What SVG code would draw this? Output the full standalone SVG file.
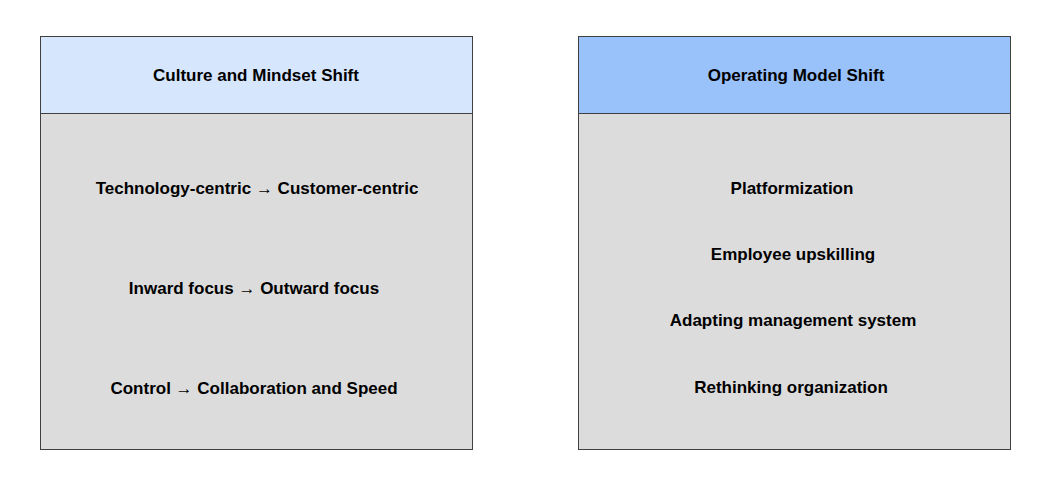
<svg xmlns="http://www.w3.org/2000/svg" width="1052" height="489" viewBox="0 0 1052 489">
<style>
.b{fill:#dcdcdc;stroke:#404040;stroke-width:1}
.h{stroke:#404040;stroke-width:1}
text{font-family:"Liberation Sans",Arial,sans-serif;font-weight:bold;font-size:17px;fill:#000;text-anchor:middle}
</style>
<rect width="1052" height="489" fill="#fff"/>
<g id="culture">
<rect class="b" x="40.5" y="36.5" width="432" height="413"/>
<rect class="h" x="40.5" y="36.5" width="432" height="77" fill="#d6e6fd"/>
<text x="256" y="81">Culture and Mindset Shift</text>
<text x="257" y="194">Technology-centric  →  Customer-centric</text>
<text x="254" y="294">Inward focus  →  Outward focus</text>
<text x="254" y="394">Control  →  Collaboration and Speed</text>
</g>
<g id="operating">
<rect class="b" x="578.5" y="36.5" width="432" height="413"/>
<rect class="h" x="578.5" y="36.5" width="432" height="77" fill="#99c2fb"/>
<text x="796" y="81">Operating Model Shift</text>
<text x="792" y="194">Platformization</text>
<text x="793" y="260">Employee upskilling</text>
<text x="793" y="326">Adapting management system</text>
<text x="791" y="393">Rethinking organization</text>
</g>
<g id="connectors"></g>
</svg>
